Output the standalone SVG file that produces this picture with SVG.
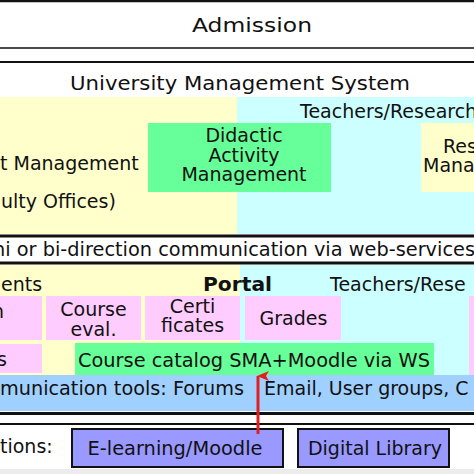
<svg xmlns="http://www.w3.org/2000/svg" width="474" height="474" viewBox="0 0 474 474">
<defs>
<style>
text{font-family:"DejaVu Sans","Verdana",sans-serif;font-size:19px;fill:#111}
.c{text-anchor:middle}
.b{font-weight:bold}
.line{stroke:#111;fill:none}
.yel{fill:#ffffcc}
.cya{fill:#ccffff}
.grn{fill:#66ff99}
.pnk{fill:#ffccff}
.blu{fill:#a0d0ff}
.app{fill:#9999ff;stroke:#111;stroke-width:2}
</style>
<marker id="ah" markerWidth="10" markerHeight="12" refX="5" refY="1" orient="auto-start-reverse" markerUnits="userSpaceOnUse" viewBox="0 0 10 12">
<path d="M0,12 L5,0 L10,12 L5,9 Z" fill="#e02020"/>
</marker>
</defs>
<rect width="474" height="474" fill="#ffffff"/>

<g id="admission">
<line class="line" x1="0" y1="1" x2="474" y2="1" stroke-width="2.5"/>
<line class="line" x1="0" y1="48" x2="474" y2="48" stroke-width="1.6"/>
<text x="192" y="32" font-size="23" textLength="120" lengthAdjust="spacingAndGlyphs">Admission</text>
</g>

<g id="ums">
<line class="line" x1="0" y1="62" x2="474" y2="62" stroke-width="1.8"/>
<text x="70" y="90" font-size="20" textLength="340" lengthAdjust="spacingAndGlyphs">University Management System</text>
<rect class="yel" x="0" y="97" width="237" height="137"/>
<rect class="cya" x="237" y="97" width="237" height="137"/>
<text x="300" y="118" font-size="18.3">Teachers/Research</text>
<text x="0" y="170" font-size="17.5">t Management</text>
<text x="1" y="208" font-size="17.5">ulty Offices)</text>
</g>

<g id="didactic">
<rect class="grn" x="148" y="123" width="183" height="69"/>
<text class="c" x="244" y="142" font-size="18">Didactic</text>
<text class="c" x="244" y="162" font-size="18">Activity</text>
<text class="c" x="244" y="181" font-size="18">Management</text>
</g>

<g id="research">
<rect class="yel" x="421" y="123" width="60" height="69"/>
<text x="443" y="153" font-size="18">Res</text>
<text x="423" y="172" font-size="18">Mana</text>
</g>

<g id="webservices">
<rect x="-2" y="236" width="478" height="27" fill="#ffffff" stroke="#111" stroke-width="3"/>
<text x="-7" y="256" font-size="19.3" textLength="482" lengthAdjust="spacingAndGlyphs">ni or bi-direction communication via web-services</text>
</g>

<g id="portal">
<rect class="yel" x="0" y="265" width="240" height="110"/>
<rect class="cya" x="240" y="265" width="234" height="110"/>
<text x="1" y="291" font-size="20">ents</text>
<text class="b" x="203" y="291" font-size="19.5" textLength="69" lengthAdjust="spacingAndGlyphs">Portal</text>
<text x="330" y="291" font-size="19.3">Teachers/Rese</text>
</g>

<g id="box-n">
<rect class="pnk" x="0" y="296" width="42" height="44"/>
<text x="-8" y="318" font-size="19">n</text>
</g>
<g id="course-eval">
<rect class="pnk" x="46" y="296" width="95" height="44"/>
<text class="c" x="93.5" y="316">Course</text>
<text class="c" x="93.5" y="336">eval.</text>
</g>
<g id="certificates">
<rect class="pnk" x="145" y="296" width="95" height="44"/>
<text class="c" x="192.5" y="313">Certi</text>
<text class="c" x="192.5" y="332">ficates</text>
</g>
<g id="grades">
<rect class="pnk" x="245" y="296" width="96" height="44"/>
<text class="c" x="293.5" y="325">Grades</text>
</g>
<g id="box-right">
<rect class="pnk" x="469" y="296" width="5" height="79"/>
</g>
<g id="box-s">
<rect class="pnk" x="0" y="344" width="42" height="29"/>
<text x="-3" y="366" font-size="19">s</text>
</g>
<g id="course-catalog">
<rect class="grn" x="75" y="343" width="359" height="32"/>
<text x="78" y="367" font-size="19.3" textLength="352" lengthAdjust="spacingAndGlyphs">Course catalog SMA+Moodle via WS</text>
</g>

<g id="communication-tools">
<rect class="blu" x="0" y="375" width="474" height="36"/>
<text x="0" y="395" font-size="19.2" textLength="244" lengthAdjust="spacingAndGlyphs">munication tools: Forums</text>
<text x="264" y="395" font-size="19.3">Email, User groups, C</text>
</g>

<g id="applications">
<line class="line" x1="0" y1="413.5" x2="474" y2="413.5" stroke-width="3"/>
<line class="line" x1="0" y1="424" x2="474" y2="424" stroke-width="2"/>
<rect x="0" y="469" width="474" height="5" fill="#ececec"/>
<text x="0" y="453" font-size="19.2">tions:</text>
</g>
<g id="elearning">
<rect class="app" x="72" y="429" width="211" height="38"/>
<text class="c" x="175" y="455" font-size="18.5" textLength="175" lengthAdjust="spacingAndGlyphs">E-learning/Moodle</text>
</g>
<g id="digital-library">
<rect class="app" x="298" y="429" width="151" height="38"/>
<text class="c" x="375" y="455" font-size="18.7">Digital Library</text>
</g>

<g id="connectors">
<line x1="258" y1="434" x2="258" y2="376" stroke="#e02020" stroke-width="3" marker-end="url(#ah)"/>
</g>
</svg>
